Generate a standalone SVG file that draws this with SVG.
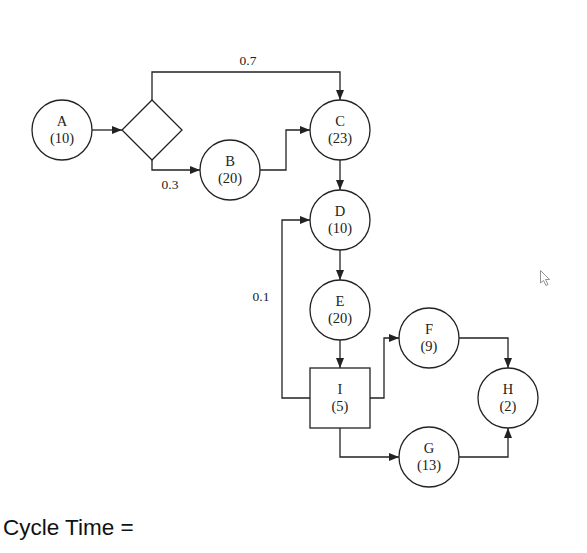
<svg xmlns="http://www.w3.org/2000/svg" width="587" height="553" viewBox="0 0 587 553">
<style>
.n{fill:#fff;stroke:#222;stroke-width:1.3}
.t{font-family:"Liberation Serif","Times New Roman",serif;font-size:14.5px;fill:#222;text-anchor:middle}
.l{font-family:"Liberation Serif","Times New Roman",serif;font-size:13.5px;fill:#222;text-anchor:middle}
.e{fill:none;stroke:#222;stroke-width:1.3}
</style>
<defs>
<marker id="ar" viewBox="0 0 10 10" refX="10" refY="5" markerWidth="10" markerHeight="10" markerUnits="userSpaceOnUse" orient="auto">
<path d="M0,1 L10,5 L0,9 Z" fill="#222"/>
</marker>
</defs>
<rect width="587" height="553" fill="#fff"/>
<g id="connectors">
<path class="e" d="M92,130 H122" marker-end="url(#ar)"/>
<path class="e" d="M152,100 V72 H340 V100" marker-end="url(#ar)"/>
<path class="e" d="M152,160 V170 H200" marker-end="url(#ar)"/>
<path class="e" d="M260,170 H286 V130 H310" marker-end="url(#ar)"/>
<path class="e" d="M340,160 V190" marker-end="url(#ar)"/>
<path class="e" d="M340,250 V280" marker-end="url(#ar)"/>
<path class="e" d="M340,340 V368" marker-end="url(#ar)"/>
<path class="e" d="M310,398 H282 V220 H310" marker-end="url(#ar)"/>
<path class="e" d="M370,398 H384 V338 H399" marker-end="url(#ar)"/>
<path class="e" d="M340,428 V457 H399" marker-end="url(#ar)"/>
<path class="e" d="M459,338 H508 V368" marker-end="url(#ar)"/>
<path class="e" d="M459,457 H508 V428" marker-end="url(#ar)"/>
<text class="l" x="248" y="65">0.7</text>
<text class="l" x="170" y="189">0.3</text>
<text class="l" x="261" y="301">0.1</text>
</g>
<g id="A"><circle class="n" cx="62" cy="130" r="30"/><text class="t" x="62" y="126">A</text><text class="t" x="62" y="143">(10)</text></g>
<g id="decision"><polygon class="n" points="152,100 182,130 152,160 122,130"/></g>
<g id="B"><circle class="n" cx="230" cy="170" r="30"/><text class="t" x="230" y="166">B</text><text class="t" x="230" y="183">(20)</text></g>
<g id="C"><circle class="n" cx="340" cy="130" r="30"/><text class="t" x="340" y="126">C</text><text class="t" x="340" y="143">(23)</text></g>
<g id="D"><circle class="n" cx="340" cy="220" r="30"/><text class="t" x="340" y="216">D</text><text class="t" x="340" y="233">(10)</text></g>
<g id="E"><circle class="n" cx="340" cy="310" r="30"/><text class="t" x="340" y="306">E</text><text class="t" x="340" y="323">(20)</text></g>
<g id="I"><rect class="n" x="310" y="368" width="60" height="60"/><text class="t" x="340" y="394">I</text><text class="t" x="340" y="411">(5)</text></g>
<g id="F"><circle class="n" cx="429" cy="338" r="30"/><text class="t" x="429" y="334">F</text><text class="t" x="429" y="351">(9)</text></g>
<g id="H"><circle class="n" cx="508" cy="398" r="30"/><text class="t" x="508" y="394">H</text><text class="t" x="508" y="411">(2)</text></g>
<g id="G"><circle class="n" cx="429" cy="457" r="30"/><text class="t" x="429" y="453">G</text><text class="t" x="429" y="470">(13)</text></g>
<path d="M540.5,270.5 V283 L543.5,280.5 L546,285.5 L548,284.5 L545.5,279.5 L549.5,279.5 Z" fill="#fff" stroke="#777" stroke-width="0.8"/>
<text x="3" y="535" font-family="Liberation Sans, Arial, sans-serif" font-size="22.5" fill="#111">Cycle Time =</text>
</svg>
